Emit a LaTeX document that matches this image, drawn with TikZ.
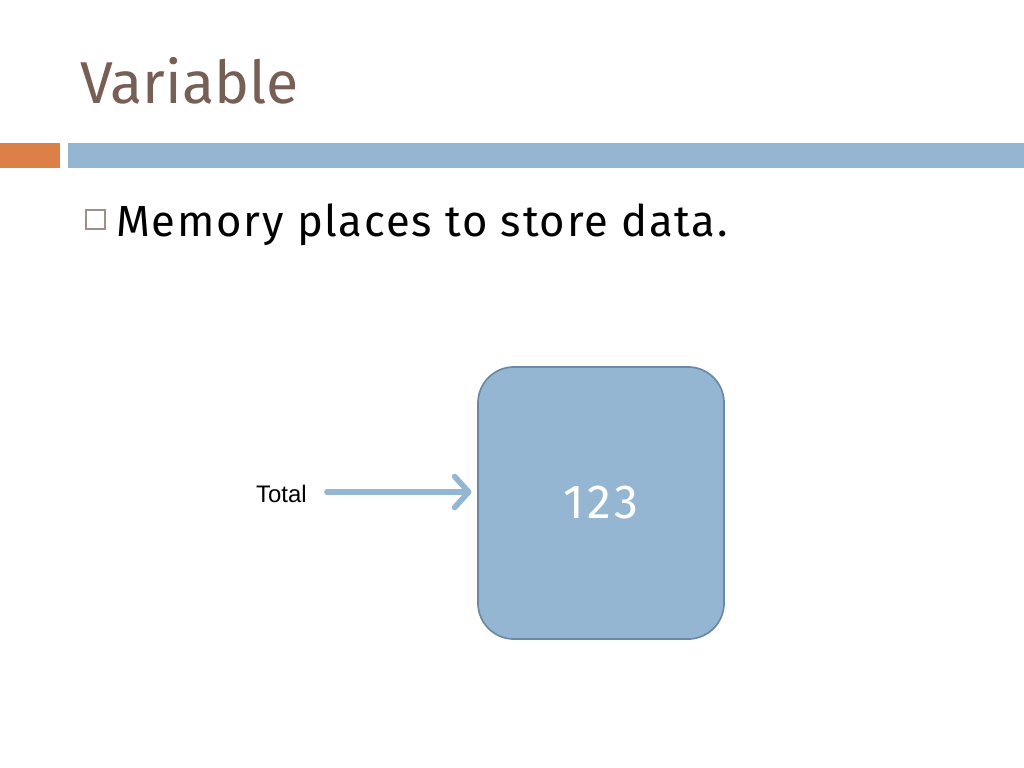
\documentclass[tikz,border=0pt]{standalone}
\usepackage{fontspec}
\setmainfont{Fira Sans}
\newfontfamily\arialfont{Liberation Sans}
\definecolor{titlebrown}{HTML}{775F55}
\definecolor{barorange}{HTML}{DD8047}
\definecolor{barblue}{HTML}{94B6D2}
\definecolor{boxedge}{HTML}{6C88A8}
\tikzset{
  bar/.style={fill=#1, draw=none},
  memcell/.style={draw=boxedge, line width=1.2pt, fill=barblue, rounded corners=0.9cm,
    minimum width=6.15cm, minimum height=6.8cm, text=white,
    font=\fontsize{34pt}{34pt}\selectfont\addfontfeatures{LetterSpace=8}},
  pointer/.style={draw=barblue, line width=4pt, line cap=round,
    -{Straight Barb[length=10pt,width=22pt,round]}}
}
\usetikzlibrary{arrows.meta}
\begin{document}
\begin{tikzpicture}[x=0.025cm,y=-0.025cm]
  \useasboundingbox (0,0) rectangle (1024,768);
%titel
  \node[anchor=base west, inner sep=0, text=titlebrown, font=\fontsize{42pt}{42pt}\selectfont] (title) at (80,104) {Variable};
  \fill[bar=barorange] (0,143) rectangle (60,168);
  \fill[bar=barblue] (68,143) rectangle (1024,168);
%punkt
  \draw[titlebrown!70, line width=0.8pt] (86,210) rectangle (105,229);
  \node[anchor=base west, inner sep=0, font=\fontsize{31pt}{31pt}\selectfont\addfontfeatures{LetterSpace=4}] (point) at (116,236) {Memory places to store data.};
%variabel
  \node[memcell] (cell) at (601,503) {123};
  \node[anchor=east, inner sep=0, font=\arialfont\fontsize{17pt}{17pt}\selectfont] (name) at (307,494) {Total};
  \coordinate (start) at (327,492);
  \draw[pointer] (start) -- ([xshift=-4pt]start -| cell.west);
\end{tikzpicture}
\end{document}
